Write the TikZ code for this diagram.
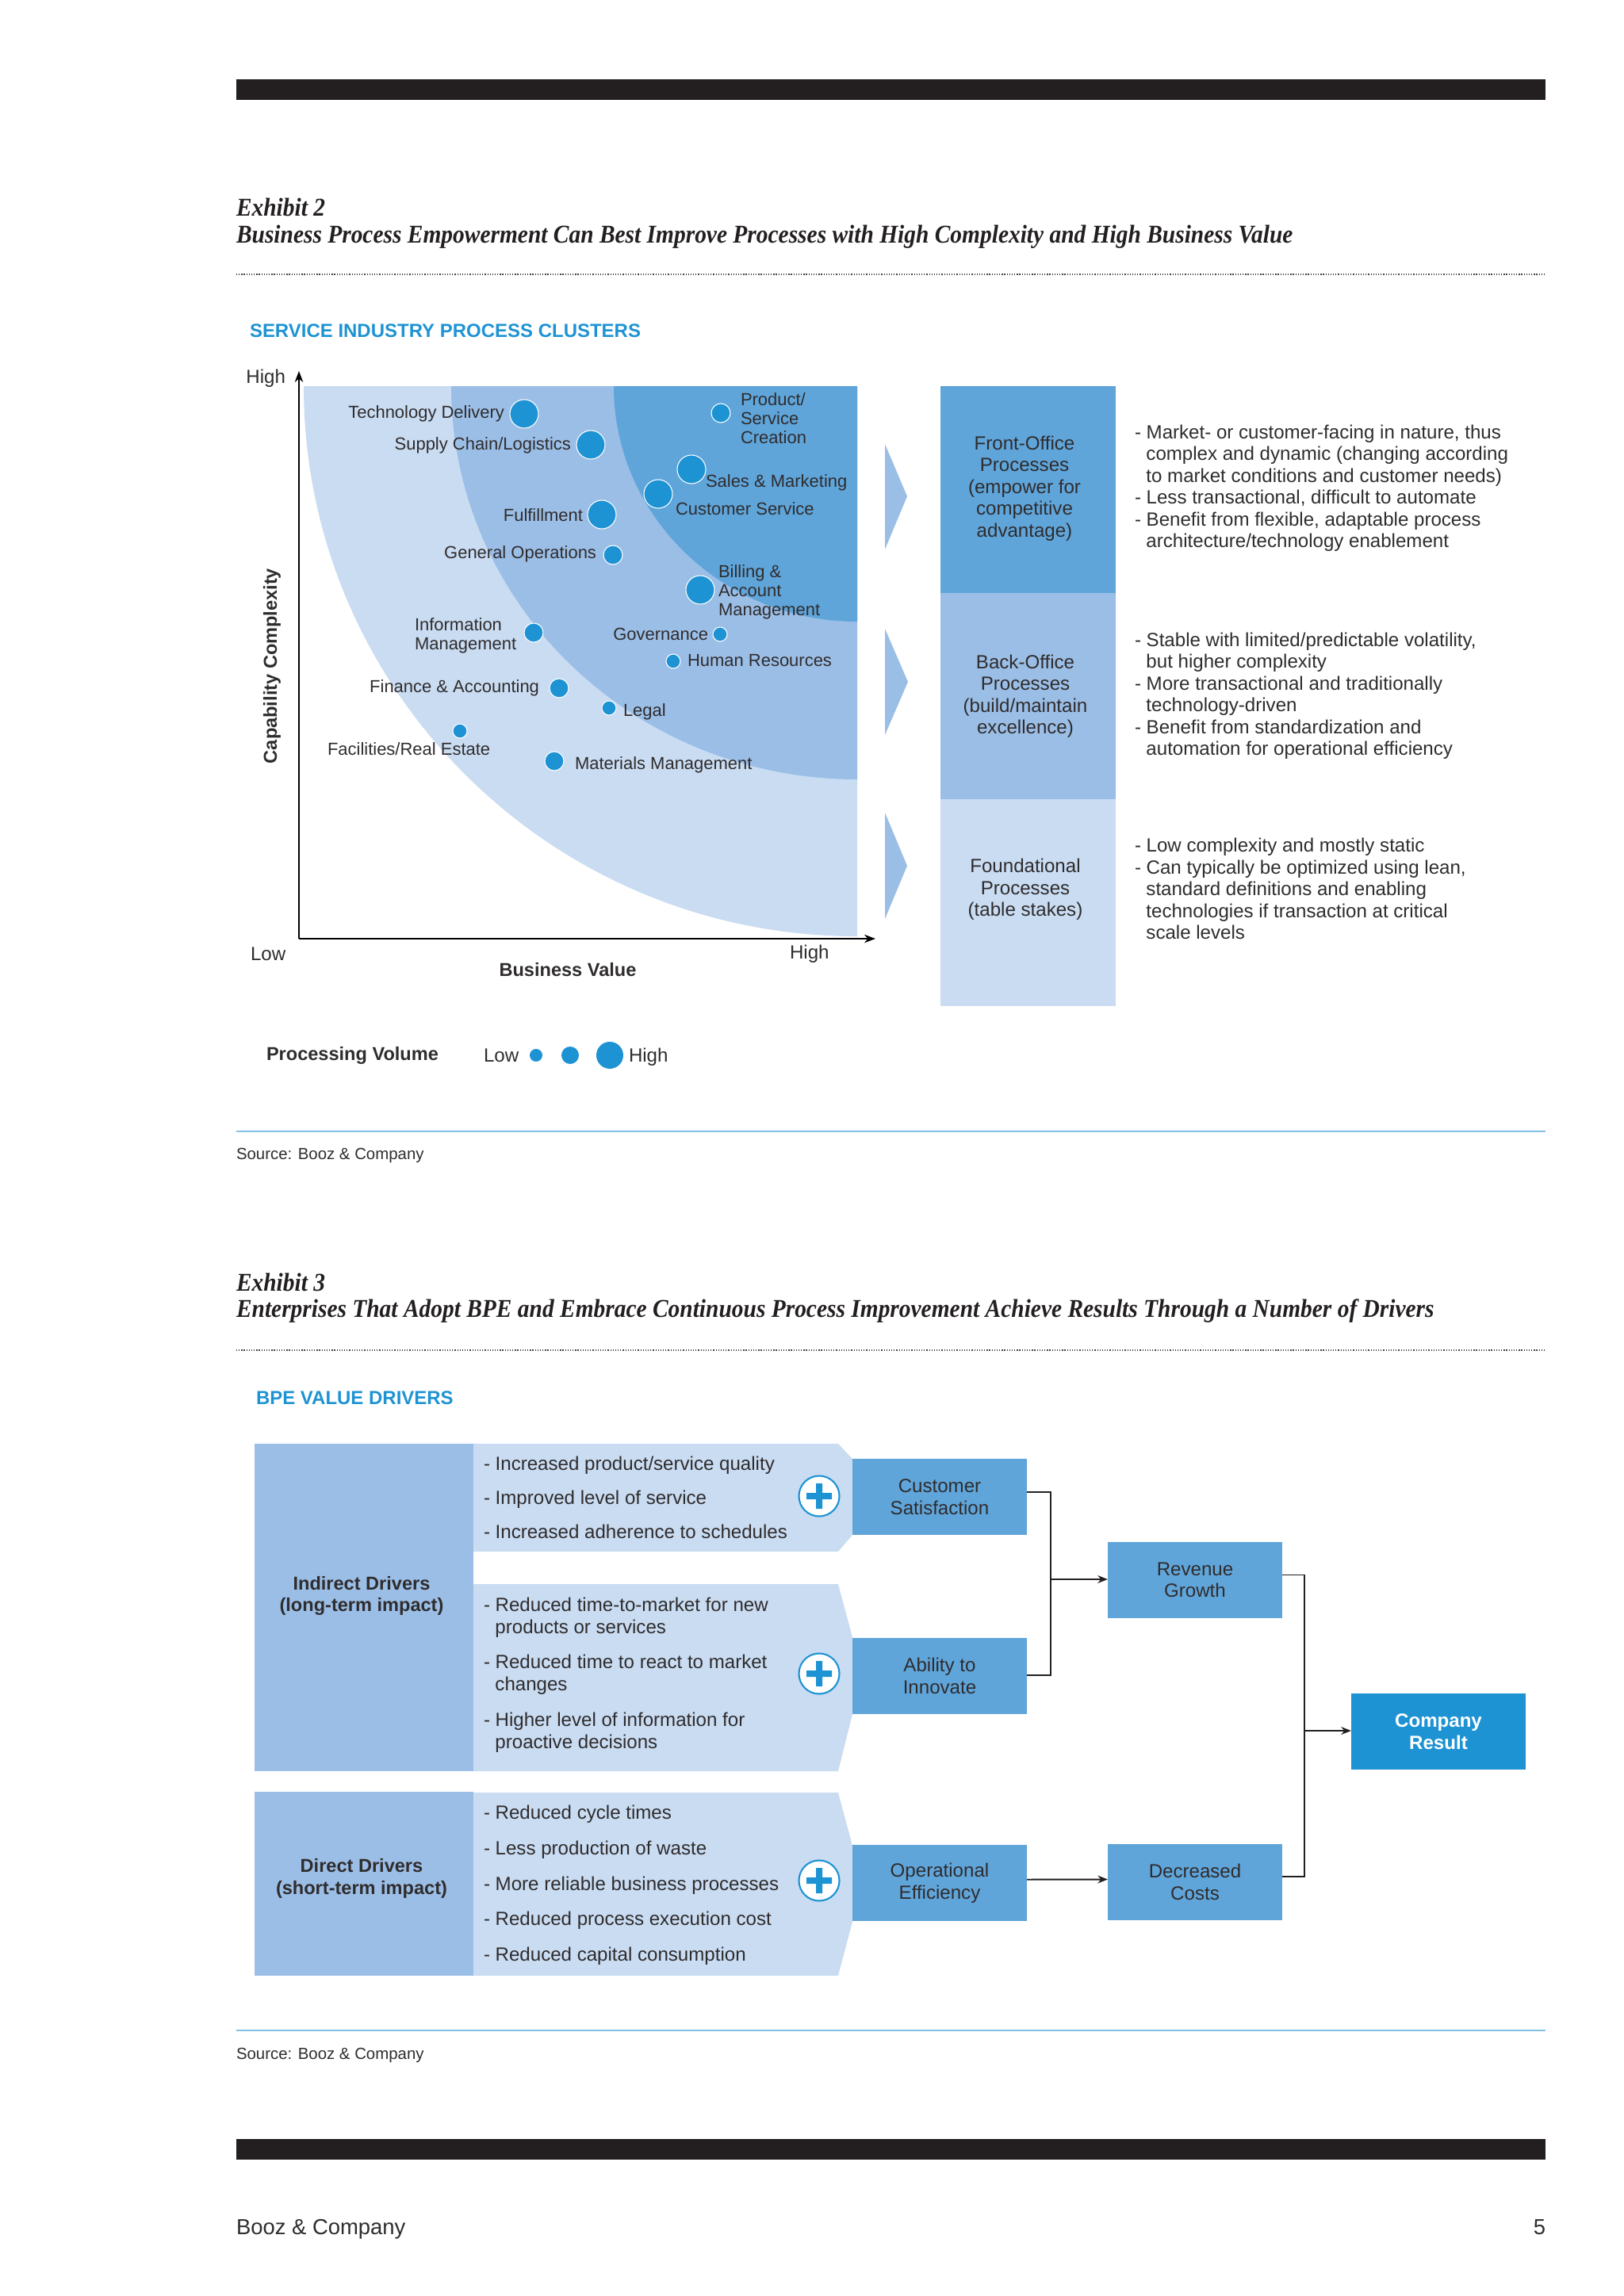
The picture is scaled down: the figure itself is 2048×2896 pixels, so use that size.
\documentclass[tikz,border=0pt]{standalone}
\usepackage{fontspec}
\setmainfont{Liberation Sans}
\newfontfamily\serifitalic[FakeStretch=0.91]{Liberation Serif}
\usepackage{xcolor}
\usepackage{tikz}
\usetikzlibrary{arrows.meta,positioning,calc}
\definecolor{darkbar}{HTML}{231F20}
\definecolor{tierdark}{HTML}{5FA5DA}
\definecolor{tiermid}{HTML}{9BBEE6}
\definecolor{tierlight}{HTML}{C9DCF2}
\definecolor{bubbleblue}{HTML}{1E93D3}
\definecolor{ruleblue}{HTML}{7FC0E4}
\definecolor{textgray}{HTML}{2F2C2D}

\begin{document}
\begin{tikzpicture}[
  x=0.01cm,y=-0.01cm,
  every node/.style={font=\fontsize{6.25}{6.83}\selectfont,text=textgray,inner sep=0pt,outer sep=0pt},
  lbl/.style={anchor=west,align=left,yshift=-0.02cm},
  lblr/.style={anchor=east,align=right,yshift=-0.02cm},
  axislbl/.style={anchor=west,align=left,yshift=-0.02cm,font=\fontsize{6.85}{7.82}\selectfont},
  bodytext/.style={anchor=west,align=left,yshift=-0.02cm,font=\fontsize{6.85}{7.82}\selectfont},
  boxtext/.style={align=center,yshift=-0.02cm,font=\fontsize{6.85}{7.82}\selectfont},
  boldtext/.style={font=\fontsize{6.7}{7.9}\selectfont\bfseries},
  heading/.style={anchor=west,font=\fontsize{6.82}{8}\selectfont\bfseries,text=bubbleblue},
  exhibit/.style={anchor=west,font=\fontsize{9.2}{10}\serifitalic\bfseries\itshape\selectfont,text=darkbar},
  source/.style={anchor=west,yshift=-0.02cm,font=\fontsize{5.8}{7}\selectfont},
  bubblebig/.style={circle,fill=bubbleblue,draw=white,line width=0.3pt,minimum size=0.36cm},
  bubblemid/.style={circle,fill=bubbleblue,draw=white,line width=0.3pt,minimum size=0.24cm},
  bubblesmall/.style={circle,fill=bubbleblue,draw=white,line width=0.3pt,minimum size=0.18cm},
  kpibox/.style={rectangle,fill=tierdark,minimum width=2.2cm,minimum height=0.96cm,align=center,font=\fontsize{6.85}{7.82}\selectfont},
  plussign/.style={circle,fill=white,draw=bubbleblue,line width=0.6pt,minimum size=0.51cm},
  dotrule/.style={line width=0.3pt,color=darkbar!85,dash pattern=on 0.35pt off 0.55pt},
  axis/.style={-{Stealth[length=4pt,width=3pt]},line width=0.5pt,color=black},
  conn/.style={line width=0.55pt,color=darkbar,line join=miter},
  arr/.style={-{Stealth[length=3.6pt,width=2.8pt]},line width=0.55pt,color=darkbar}
]
\useasboundingbox (0,0) rectangle (2048,2896);

\fill[darkbar] (298,100) rectangle (1949,126);
\node[exhibit] (exh2) at (298,261) {Exhibit 2};
\node[exhibit] (title2) at (298,299) {Business Process Empowerment Can Best Improve Processes with High Complexity and High Business Value};
\draw[dotrule] (298,346) -- (1949,346);
\node[heading] (clusters) at (315,417) {SERVICE INDUSTRY PROCESS CLUSTERS};

\fill[tierlight] (383,487) arc[start angle=180,end angle=270,x radius=698,y radius=-694] -- (1081,487) -- cycle;
\fill[tiermid] (569,487) arc[start angle=180,end angle=270,x radius=512,y radius=-496] -- (1081,487) -- cycle;
\fill[tierdark] (774,487) arc[start angle=180,end angle=270,x radius=307,y radius=-297] -- (1081,487) -- cycle;

\coordinate (origin) at (377,1184);
\coordinate (ytop) at (377,468);
\coordinate (xend) at (1104,1184);
\draw[axis] (origin) -- (ytop);
\draw[axis] (origin) -- (xend);
\node[axislbl,anchor=east] (yhigh) at (360,475) {High};
\node[axislbl] (xlow) at (316,1201) {Low};
\node[axislbl] (xhigh) at (996,1201) {High};
\node[boldtext] (xtitle) at (716,1223) {Business Value};
\node[boldtext,rotate=90] (ytitle) at (343,840) {Capability Complexity};

\node[bubblebig] (techdel) at (661,522) {};
\node[bubblebig] (supply) at (745,561) {};
\node[bubblemid] (product) at (909,521) {};
\node[bubblebig] (sales) at (872,592) {};
\node[bubblebig] (custserv) at (830,623) {};
\node[bubblebig] (fulfil) at (759,649) {};
\node[bubblemid] (genops) at (773,700) {};
\node[bubblebig] (billing) at (883,744) {};
\node[bubblemid] (infomgmt) at (673,798) {};
\node[bubblesmall] (gov) at (908,800) {};
\node[bubblesmall] (hr) at (849,834) {};
\node[bubblemid] (finance) at (705,868) {};
\node[bubblesmall] (legal) at (768,893) {};
\node[bubblesmall] (facil) at (580,922) {};
\node[bubblemid] (material) at (699,960) {};

\node[lblr] at (636,520) {Technology Delivery};
\node[lblr] at (720,560) {Supply Chain/Logistics};
\node[lbl] at (934,526) {Product/\\Service\\Creation};
\node[lbl] at (890,607) {Sales \& Marketing};
\node[lbl] at (852,640) {Customer Service};
\node[lblr] at (735,648) {Fulfillment};
\node[lblr] at (752,697) {General Operations};
\node[lbl] at (906,745) {Billing \&\\Account\\Management};
\node[lbl] at (523,800) {Information\\Management};
\node[lblr] at (893,798) {Governance};
\node[lbl] at (867,831) {Human Resources};
\node[lblr] at (680,866) {Finance \& Accounting};
\node[lbl] at (786,896) {Legal};
\node[lbl] at (413,943) {Facilities/Real Estate};
\node[lbl] at (725,963) {Materials Management};

\node[fill=tierdark,minimum width=2.21cm,minimum height=2.61cm,anchor=north west] (front) at (1186,487) {};
\node[fill=tiermid,minimum width=2.21cm,minimum height=2.6cm,anchor=north west] (back) at (1186,748) {};
\node[fill=tierlight,minimum width=2.21cm,minimum height=2.61cm,anchor=north west] (found) at (1186,1008) {};
\node[boxtext] at (1292,614) {Front-Office\\Processes\\(empower for\\competitive\\advantage)};
\node[boxtext] at (1293,876) {Back-Office\\Processes\\(build/maintain\\excellence)};
\node[boxtext] at (1293,1120) {Foundational\\Processes\\(table stakes)};
\fill[tiermid] (1116,560) -- (1144,626) -- (1116,693) -- cycle;
\fill[tiermid] (1116,793) -- (1145,860) -- (1116,927) -- cycle;
\fill[tiermid] (1116,1025) -- (1144,1092) -- (1116,1159) -- cycle;
\node[bodytext] at (1431,614) {- Market- or customer-facing in nature, thus\\
\hspace*{0.6em}complex and dynamic (changing according\\
\hspace*{0.6em}to market conditions and customer needs)\\
- Less transactional, difficult to automate\\
- Benefit from flexible, adaptable process\\
\hspace*{0.6em}architecture/technology enablement};
\node[bodytext] at (1431,876) {- Stable with limited/predictable volatility,\\
\hspace*{0.6em}but higher complexity\\
- More transactional and traditionally\\
\hspace*{0.6em}technology-driven\\
- Benefit from standardization and\\
\hspace*{0.6em}automation for operational efficiency};
\node[bodytext] at (1431,1119) {- Low complexity and mostly static\\
- Can typically be optimized using lean,\\
\hspace*{0.6em}standard definitions and enabling\\
\hspace*{0.6em}technologies if transaction at critical\\
\hspace*{0.6em}scale levels};

\node[boldtext,anchor=west] (procvol) at (336,1331) {Processing Volume};
\node[axislbl] (vollow) at (610,1329) {Low};
\node[bubblesmall,draw=none,minimum size=0.16cm] (leglow) at (676,1331) {};
\node[bubblemid,draw=none,minimum size=0.22cm] (legmid) at (719,1331) {};
\node[bubblebig,draw=none,minimum size=0.34cm] (leghigh) at (769,1331) {};
\node[axislbl] (volhigh) at (793,1331) {High};

\draw[ruleblue,line width=0.45pt] (298,1427) -- (1949,1427);
\node[source] (src2) at (298,1455) {Source: Booz \& Company};

\node[exhibit] (exh3) at (298,1617) {Exhibit 3};
\node[exhibit] (title3) at (298,1654) {Enterprises That Adopt BPE and Embrace Continuous Process Improvement Achieve Results Through a Number of Drivers};
\draw[dotrule] (298,1703) -- (1949,1703);
\node[heading] (drivers) at (323,1763) {BPE VALUE DRIVERS};

\node[fill=tiermid,minimum width=2.755cm,minimum height=4.13cm,anchor=north west] (indirect) at (321,1821) {};
\node[fill=tiermid,minimum width=2.755cm,minimum height=2.32cm,anchor=north west] (direct) at (321,2260) {};
\node[boldtext,align=center] at (456,2013) {Indirect Drivers\\(long-term impact)};
\node[boldtext,align=center] at (456,2369) {Direct Drivers\\(short-term impact)};
\fill[tierlight] (597,1821) -- (1057,1821) -- (1075,1840) -- (1075,1936) -- (1057,1957) -- (597,1957) -- cycle;
\fill[tierlight] (597,1998) -- (1057,1998) -- (1075,2065) -- (1075,2162) -- (1057,2234) -- (597,2234) -- cycle;
\fill[tierlight] (597,2261) -- (1057,2261) -- (1075,2328) -- (1075,2424) -- (1057,2492) -- (597,2492) -- cycle;

\node[bodytext] at (610,1846) {- Increased product/service quality};
\node[bodytext] at (610,1889) {- Improved level of service};
\node[bodytext] at (610,1930) {- Increased adherence to schedules};
\node[bodytext] at (610,2038) {- Reduced time-to-market for new\\\hspace*{0.6em}products or services};
\node[bodytext] at (610,2110) {- Reduced time to react to market\\\hspace*{0.6em}changes};
\node[bodytext] at (610,2183) {- Higher level of information for\\\hspace*{0.6em}proactive decisions};
\node[bodytext] at (610,2286) {- Reduced cycle times};
\node[bodytext] at (610,2331) {- Less production of waste};
\node[bodytext] at (610,2376) {- More reliable business processes};
\node[bodytext] at (610,2420) {- Reduced process execution cost};
\node[bodytext] at (610,2465) {- Reduced capital consumption};

\node[plussign] (plus1) at (1033,1887) {};
\node[plussign] (plus2) at (1033,2111) {};
\node[plussign] (plus3) at (1033,2372) {};
\fill[bubbleblue] (1017,1883) rectangle (1049,1891) (1029,1871) rectangle (1037,1903);
\fill[bubbleblue] (1017,2107) rectangle (1049,2115) (1029,2095) rectangle (1037,2127);
\fill[bubbleblue] (1017,2368) rectangle (1049,2376) (1029,2356) rectangle (1037,2388);

\node[kpibox] (custsat) at (1185,1888) {Customer\\Satisfaction};
\node[kpibox] (ability) at (1185,2114) {Ability to\\Innovate};
\node[kpibox] (opeff) at (1185,2375) {Operational\\Efficiency};
\node[kpibox] (revenue) at (1507,1993) {Revenue\\Growth};
\node[kpibox] (costs) at (1507,2374) {Decreased\\Costs};
\node[kpibox,fill=bubbleblue,text=white,font=\fontsize{6.85}{7.82}\selectfont\bfseries] (result) at (1814,2184) {Company\\Result};

\coordinate (joinrev) at (1325,1992);
\coordinate (joinres) at (1645,2183);
\draw[conn] ([yshift=0.064cm]custsat.east) -| (joinrev) |- ([yshift=0.013cm]ability.east);
\draw[conn] ([yshift=0.065cm]revenue.east) -| (joinres) |- ([yshift=0.07cm]costs.east);
\draw[arr] (joinrev) -- (revenue.west |- joinrev);
\draw[arr] (joinres) -- (result.west |- joinres);
\draw[arr] ([yshift=0.043cm]opeff.east) -- ([yshift=0.035cm]costs.west);

\draw[ruleblue,line width=0.45pt] (298,2561) -- (1949,2561);
\node[source] (src3) at (298,2590) {Source: Booz \& Company};

\fill[darkbar] (298,2698) rectangle (1949,2724);
\node[anchor=west,font=\fontsize{7.8}{10}\selectfont] (footer) at (298,2812) {Booz \& Company};
\node[anchor=east,font=\fontsize{7.8}{10}\selectfont] (pageno) at (1949,2809) {5};
\end{tikzpicture}
\end{document}
